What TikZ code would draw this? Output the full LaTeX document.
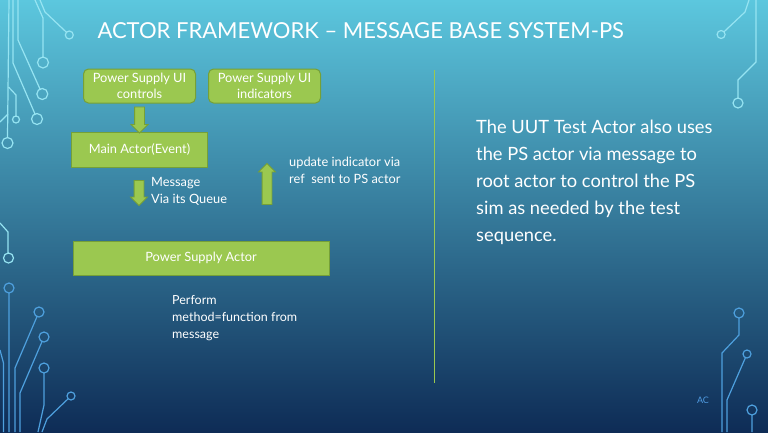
\documentclass[tikz,border=0pt]{standalone}
\usepackage{fontspec}
\setmainfont{Lato}
\usetikzlibrary{shapes,arrows,positioning,calc}

\definecolor{psgreen}{RGB}{155,200,80}
\definecolor{psedge}{RGB}{118,160,55}
\definecolor{bgtop}{RGB}{92,199,222}
\definecolor{bgmid}{RGB}{44,142,186}
\definecolor{bgbot}{RGB}{14,44,86}
\definecolor{tracelight}{RGB}{150,228,242}
\definecolor{traceblue}{RGB}{78,160,222}
\definecolor{acblue}{RGB}{80,155,225}

\begin{document}
\begin{tikzpicture}[
    x=1pt, y=-1pt,
    uibox/.style={rectangle, rounded corners=5pt, draw=psedge, line width=1pt, fill=psgreen, text=white, font=\fontsize{12.8}{16.5}\selectfont, align=center, minimum width=112pt, minimum height=34pt, inner sep=1pt},
    actorbox/.style={rectangle, draw=psedge, line width=1pt, fill=psgreen, text=white, font=\fontsize{12.8}{16}\selectfont, minimum height=35pt},
    blockarrow/.style={single arrow, draw=psedge, fill=psgreen, line width=0.8pt, minimum width=16pt, single arrow head extend=3.5pt, inner sep=4.5pt},
    note/.style={text=white, font=\fontsize{12.8}{17}\selectfont, align=left, inner sep=0pt},
    trace/.style={line width=1.2pt, tracelight},
    bluetrace/.style={line width=1.2pt, traceblue}
]

\useasboundingbox (0,0) rectangle (768,432);
\shade[shading angle=25, top color=bgtop, middle color=bgmid, bottom color=bgbot] (0,0) rectangle (768,432);

% circuit traces, left side
\draw[trace] (9,0) -- (7.5,137) ++(0,6) circle[radius=5.5pt];
\draw[trace] (13,0) -- (13,63) -- (35,114) ++(2,5) circle[radius=5.5pt];
\draw[trace] (18,0) -- (18,40) -- (40,89) ++(2.3,5) circle[radius=5.5pt];
\draw[trace] (35,0) -- (43,18) -- (43,57) ++(0,5.5) circle[radius=5.5pt];
\draw[trace] (40,0) -- (45,12) -- (66.4,32.2) ++(2.9,2.8) circle[radius=4pt];
\draw[trace] (8.5,87) -- (16,95) -- (16,116) ++(0,3.5) circle[radius=3.5pt];
\draw[trace] (0,122) -- (8,114);
\draw[trace] (0,223) -- (8,232) -- (8,253) ++(0.5,5) circle[radius=5pt];
\draw[bluetrace] (9,288) circle[radius=5pt] ++(0,5) -- (9,432);
\draw[bluetrace] (39,312) circle[radius=5pt] ++(-2,4.6) -- (15,368) -- (15,432);
\draw[bluetrace] (44,337) circle[radius=5pt] ++(-2,4.6) -- (20,393) -- (20,432);
\draw[bluetrace] (44,368) circle[radius=5pt] ++(0,5) -- (44,405) -- (38,432);
\draw[bluetrace] (71,396) circle[radius=4pt] ++(-2.9,2.8) -- (47,419) -- (42,432);
\draw[bluetrace] (0,350) -- (3.5,363) -- (3.5,432);

% circuit traces, right side
\draw[trace] (749,0) -- (745,12) -- (724,31.8) ++(-2.9,2.7) circle[radius=4pt];
\draw[trace] (756,0) -- (756,62) -- (738,80) -- (738,98) ++(0,5) circle[radius=5pt];
\draw[bluetrace] (739,313) circle[radius=5pt] ++(0,5) -- (739,335) -- (722,353) -- (722,432);
\draw[bluetrace] (747,354) circle[radius=4pt] ++(-1.6,3.7) -- (727,400) -- (727,432);
\draw[bluetrace] (752,410) circle[radius=5pt] ++(0,5) -- (752,432);

\node[anchor=base west, text=white, font=\fontsize{22}{26}\selectfont] (title) at (94,38) {ACTOR FRAMEWORK -- MESSAGE BASE SYSTEM-PS};

\node[uibox] (ctrl) at (139.5,86) {Power Supply UI\\controls};
\node[uibox, right=12pt of ctrl] (ind) {Power Supply UI\\indicators};
\node[actorbox, minimum width=136pt, below=28pt of ctrl] (main) {Main Actor(Event)};
\node[actorbox, minimum width=256pt, minimum height=34pt, below right=73pt and 1.5pt of main.south west] (psa) {Power Supply Actor};

\node[blockarrow, rotate=-90, minimum height=26pt] (toMain) at ($(ctrl.south)!0.5!(main.north)$) {};
\node[blockarrow, rotate=-90, minimum height=25pt] (msgArrow) at (139,190.5) {};
\node[blockarrow, rotate=90, minimum height=41pt] (updArrow) at (267,186.5) {};

\node[note, anchor=north west] (msg) at (151,177) {Message\\Via its Queue};
\node[note, anchor=north west] (upd) at (289,157) {update indicator via\\ref\ \ sent to PS actor};
\node[note, anchor=north west, font=\fontsize{12.5}{17}\selectfont] (perf) at (172,295) {Perform\\method=function from\\message};

\draw[psgreen, line width=0.8pt] (434,70) -- (434,383);

\node[anchor=north west, text=white, align=left, inner sep=0pt, font=\fontsize{18.3}{27}\selectfont] (uut) at (476,120) {The UUT Test Actor also uses\\the PS actor via message to\\root actor to control the PS\\sim as needed by the test\\sequence.};

\node[text=acblue, font=\fontsize{9}{11}\selectfont] (ac) at (703,400) {AC};

\end{tikzpicture}
\end{document}
